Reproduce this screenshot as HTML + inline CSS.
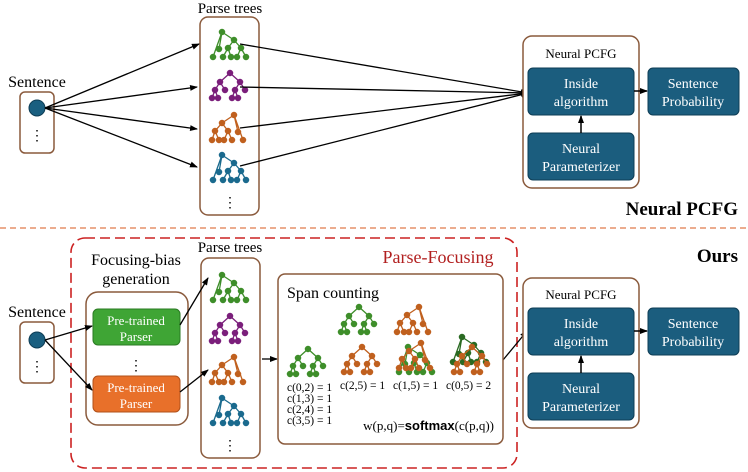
<!DOCTYPE html>
<html><head><meta charset="utf-8"><style>
html,body{margin:0;padding:0;background:#fff}
svg{display:block}
text{font-family:"Liberation Serif",serif}
</style></head><body>
<svg width="748" height="472" viewBox="0 0 748 472" xmlns="http://www.w3.org/2000/svg">
<defs>
<marker id="ar" markerWidth="8" markerHeight="8" refX="7" refY="4" orient="auto" markerUnits="userSpaceOnUse">
<path d="M0,1 L8,4 L0,7 Z" fill="#000"/></marker>
<g id="tr" stroke="currentColor" fill="currentColor" stroke-width="1.3">
<path d="M13,3 L25,11 M13,3 L4,28 M25,11 L19,19 M25,11 L32,19 M19,19 L14,28 M19,19 L22,28 M32,19 L28,28 M32,19 L37,28 M13,3 L10,20" fill="none"/>
<circle cx="13" cy="3" r="2.6"/><circle cx="25" cy="11" r="2.6"/><circle cx="19" cy="19" r="2.6"/><circle cx="32" cy="19" r="2.6"/><circle cx="10" cy="20" r="2.6"/>
<circle cx="4" cy="28" r="2.6"/><circle cx="14" cy="28" r="2.6"/><circle cx="22" cy="28" r="2.6"/><circle cx="28" cy="28" r="2.6"/><circle cx="37" cy="28" r="2.6"/>
</g>
<g id="tr3" stroke="currentColor" fill="currentColor" stroke-width="1.3">
<path d="M24,3 L12,11 M24,3 L33,28 M12,11 L18,19 M12,11 L5,19 M18,19 L14,28 M18,19 L22,28 M5,19 L2,28 M5,19 L9,28 M24,3 L28,20" fill="none"/>
<circle cx="24" cy="3" r="2.6"/><circle cx="12" cy="11" r="2.6"/><circle cx="18" cy="19" r="2.6"/><circle cx="5" cy="19" r="2.6"/><circle cx="28" cy="20" r="2.6"/>
<circle cx="2" cy="28" r="2.6"/><circle cx="9" cy="28" r="2.6"/><circle cx="14" cy="28" r="2.6"/><circle cx="22" cy="28" r="2.6"/><circle cx="33" cy="28" r="2.6"/>
</g>
<g id="tr2" stroke="currentColor" fill="currentColor" stroke-width="1.3">
<path d="M20,3 L10,12 M20,3 L30,12 M10,12 L5,20 M10,12 L15,20 M30,12 L25,20 M30,12 L35,20 M5,20 L2,28 M5,20 L8,28 M25,20 L22,28 M25,20 L28,28" fill="none"/>
<circle cx="20" cy="3" r="2.6"/><circle cx="10" cy="12" r="2.6"/><circle cx="30" cy="12" r="2.6"/><circle cx="5" cy="20" r="2.6"/><circle cx="15" cy="20" r="2.6"/><circle cx="25" cy="20" r="2.6"/><circle cx="35" cy="20" r="2.6"/>
<circle cx="2" cy="28" r="2.6"/><circle cx="8" cy="28" r="2.6"/><circle cx="22" cy="28" r="2.6"/><circle cx="28" cy="28" r="2.6"/>
</g>
</defs>

<!-- TOP -->
<text x="37" y="87" font-size="16" text-anchor="middle">Sentence</text>
<rect x="20" y="92" width="34" height="61" rx="5" fill="#fff" stroke="#8a5a3c" stroke-width="1.5"/>
<circle cx="37" cy="108" r="8" fill="#1a5f80" stroke="#0e3d55"/>
<text x="37" y="140" font-size="14" text-anchor="middle">⋮</text>

<text x="230" y="13" font-size="15" text-anchor="middle">Parse trees</text>
<rect x="200" y="17" width="59" height="198" rx="8" fill="#fff" stroke="#8a5a3c" stroke-width="1.5"/>
<use href="#tr" x="209" y="29" color="#3e8e2a"/>
<use href="#tr2" x="210" y="70" color="#7b1f7b"/>
<use href="#tr3" x="210" y="112" color="#c0601e"/>
<use href="#tr" x="209" y="152" color="#1a6a8e"/>
<text x="230" y="207" font-size="14" text-anchor="middle">⋮</text>

<g stroke="#000" stroke-width="1.3" fill="none" marker-end="url(#ar)">
<line x1="45" y1="108" x2="199" y2="44"/>
<line x1="45" y1="108" x2="197" y2="87"/>
<line x1="45" y1="108" x2="197" y2="129"/>
<line x1="45" y1="108" x2="197" y2="167"/>
<line x1="240" y1="44" x2="528" y2="93"/>
<line x1="240" y1="87" x2="528" y2="93"/>
<line x1="240" y1="128" x2="528" y2="93"/>
<line x1="240" y1="166" x2="528" y2="93"/>
</g>

<rect x="523" y="36" width="116" height="152" rx="9" fill="#fff" stroke="#8a5a3c" stroke-width="1.5"/>
<text x="581" y="58" font-size="13" text-anchor="middle">Neural PCFG</text>
<rect x="528" y="68" width="106" height="47" rx="5" fill="#1b5d7e" stroke="#0e3d55"/>
<text x="581" y="88" font-size="14" fill="#fff" text-anchor="middle">Inside</text>
<text x="581" y="106" font-size="14" fill="#fff" text-anchor="middle">algorithm</text>
<rect x="528" y="133" width="106" height="47" rx="5" fill="#1b5d7e" stroke="#0e3d55"/>
<text x="581" y="153" font-size="14" fill="#fff" text-anchor="middle">Neural</text>
<text x="581" y="171" font-size="14" fill="#fff" text-anchor="middle">Parameterizer</text>
<rect x="648" y="68" width="91" height="47" rx="5" fill="#1b5d7e" stroke="#0e3d55"/>
<text x="693" y="88" font-size="14" fill="#fff" text-anchor="middle">Sentence</text>
<text x="693" y="106" font-size="14" fill="#fff" text-anchor="middle">Probability</text>
<g stroke="#000" stroke-width="1.5" marker-end="url(#ar)">
<line x1="634" y1="91" x2="647" y2="91"/>
<line x1="581" y1="133" x2="581" y2="116"/>
</g>
<text x="738" y="215" font-size="19" font-weight="bold" text-anchor="end">Neural PCFG</text>

<line x1="0" y1="228" x2="748" y2="228" stroke="#e07a4a" stroke-width="1.2" stroke-dasharray="6,4"/>

<!-- BOTTOM -->
<rect x="71" y="238" width="446" height="230" rx="14" fill="none" stroke="#cc2222" stroke-width="1.6" stroke-dasharray="10,5"/>
<text x="438" y="263" font-size="18" fill="#b22020" text-anchor="middle">Parse-Focusing</text>
<text x="738" y="262" font-size="19" font-weight="bold" text-anchor="end">Ours</text>

<text x="37" y="317" font-size="16" text-anchor="middle">Sentence</text>
<rect x="20" y="322" width="34" height="61" rx="5" fill="#fff" stroke="#8a5a3c" stroke-width="1.5"/>
<circle cx="37" cy="340" r="8" fill="#1a5f80" stroke="#0e3d55"/>
<text x="37" y="371" font-size="14" text-anchor="middle">⋮</text>

<text x="136" y="265" font-size="16" text-anchor="middle">Focusing-bias</text>
<text x="136" y="284" font-size="16" text-anchor="middle">generation</text>
<rect x="86" y="292" width="102" height="133" rx="12" fill="#fff" stroke="#8a5a3c" stroke-width="1.5"/>
<rect x="93" y="309" width="87" height="36" rx="5" fill="#3fa535" stroke="#2a7a22"/>
<text x="136" y="325" font-size="13" fill="#fff" text-anchor="middle">Pre-trained</text>
<text x="136" y="341" font-size="13" fill="#fff" text-anchor="middle">Parser</text>
<text x="136" y="370" font-size="14" text-anchor="middle">⋮</text>
<rect x="93" y="376" width="87" height="36" rx="5" fill="#e8702a" stroke="#b0501a"/>
<text x="136" y="392" font-size="13" fill="#fff" text-anchor="middle">Pre-trained</text>
<text x="136" y="408" font-size="13" fill="#fff" text-anchor="middle">Parser</text>

<text x="230" y="252" font-size="15" text-anchor="middle">Parse trees</text>
<rect x="201" y="258" width="59" height="200" rx="8" fill="#fff" stroke="#8a5a3c" stroke-width="1.5"/>
<use href="#tr" x="209" y="272" color="#3e8e2a"/>
<use href="#tr2" x="210" y="313" color="#7b1f7b"/>
<use href="#tr3" x="210" y="354" color="#c0601e"/>
<use href="#tr" x="209" y="395" color="#1a6a8e"/>
<text x="230" y="450" font-size="14" text-anchor="middle">⋮</text>

<g stroke="#000" stroke-width="1.3" fill="none" marker-end="url(#ar)">
<line x1="45" y1="340" x2="92" y2="326"/>
<line x1="45" y1="340" x2="92" y2="390"/>
<line x1="180" y1="325" x2="208" y2="278"/>
<line x1="180" y1="392" x2="208" y2="370"/>
<line x1="262" y1="359" x2="277" y2="359"/>
<line x1="503" y1="360" x2="527" y2="331"/>
</g>

<rect x="278" y="274" width="225" height="170" rx="7" fill="#fff" stroke="#8a5a3c" stroke-width="1.5"/>
<text x="287" y="298" font-size="16">Span counting</text>
<use href="#tr2" x="339" y="304" color="#3e8e2a"/>
<use href="#tr3" x="395" y="304" color="#c0601e"/>
<use href="#tr2" x="288" y="346" color="#3e8e2a"/>
<use href="#tr2" x="342" y="344" color="#c0601e"/>
<use href="#tr" x="395" y="344" color="#3e8e2a"/>
<use href="#tr3" x="397" y="340" color="#c0601e"/>
<use href="#tr" x="449" y="334" color="#2a6a22"/>
<use href="#tr2" x="452" y="344" color="#c0601e"/>
<g font-size="11.5">
<text x="287" y="391">c(0,2) = 1</text>
<text x="340" y="389">c(2,5) = 1</text>
<text x="393" y="389">c(1,5) = 1</text>
<text x="446" y="389">c(0,5) = 2</text>
<text x="287" y="402">c(1,3) = 1</text>
<text x="287" y="413">c(2,4) = 1</text>
<text x="287" y="424">c(3,5) = 1</text>
</g>
<text x="494" y="430" font-size="13" text-anchor="end">w(p,q)=<tspan font-family="Liberation Sans,sans-serif" font-weight="bold">softmax</tspan>(c(p,q))</text>

<rect x="523" y="278" width="116" height="150" rx="9" fill="#fff" stroke="#8a5a3c" stroke-width="1.5"/>
<text x="581" y="299" font-size="13" text-anchor="middle">Neural PCFG</text>
<rect x="528" y="308" width="106" height="47" rx="5" fill="#1b5d7e" stroke="#0e3d55"/>
<text x="581" y="328" font-size="14" fill="#fff" text-anchor="middle">Inside</text>
<text x="581" y="346" font-size="14" fill="#fff" text-anchor="middle">algorithm</text>
<rect x="528" y="373" width="106" height="47" rx="5" fill="#1b5d7e" stroke="#0e3d55"/>
<text x="581" y="393" font-size="14" fill="#fff" text-anchor="middle">Neural</text>
<text x="581" y="411" font-size="14" fill="#fff" text-anchor="middle">Parameterizer</text>
<rect x="648" y="308" width="91" height="47" rx="5" fill="#1b5d7e" stroke="#0e3d55"/>
<text x="693" y="328" font-size="14" fill="#fff" text-anchor="middle">Sentence</text>
<text x="693" y="346" font-size="14" fill="#fff" text-anchor="middle">Probability</text>
<g stroke="#000" stroke-width="1.5" marker-end="url(#ar)">
<line x1="634" y1="331" x2="647" y2="331"/>
<line x1="581" y1="373" x2="581" y2="356"/>
</g>
</svg>
</body></html>
